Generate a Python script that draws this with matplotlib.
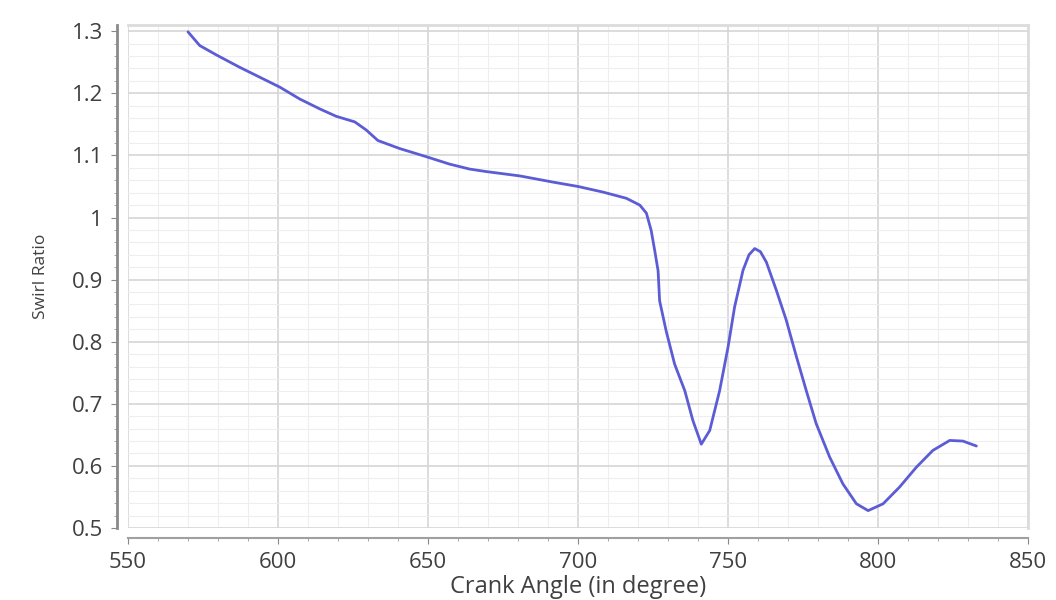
import numpy as np
import matplotlib.pyplot as plt
from matplotlib.ticker import MultipleLocator

# Swirl ratio vs crank angle
crank_angle = [570.0, 573.9, 579.4, 587.2, 593.9, 600.6, 607.2, 613.9, 619.4,
               625.6, 629.4, 633.3, 640.6, 649.4, 657.2, 663.9, 669.4, 680.6,
               691.7, 700.0, 708.3, 716.1, 720.6, 722.8, 724.4, 725.6, 726.7,
               727.2, 729.4, 732.2, 735.6, 738.3, 741.1, 743.9, 747.2, 750.0,
               752.2, 755.0, 757.0, 758.9, 760.8, 762.8, 766.1, 769.4, 772.8,
               776.1, 779.4, 783.9, 788.3, 792.8, 796.7, 801.7, 807.2, 812.8,
               818.3, 823.9, 828.3, 832.8]
swirl_ratio = [1.299, 1.277, 1.262, 1.242, 1.226, 1.210, 1.191, 1.175, 1.163,
               1.154, 1.141, 1.124, 1.111, 1.098, 1.086, 1.078, 1.074, 1.067,
               1.057, 1.050, 1.041, 1.031, 1.020, 1.007, 0.979, 0.946, 0.914,
               0.866, 0.817, 0.764, 0.721, 0.673, 0.635, 0.657, 0.721, 0.791,
               0.856, 0.915, 0.940, 0.950, 0.945, 0.928, 0.883, 0.835, 0.776,
               0.721, 0.668, 0.614, 0.571, 0.539, 0.528, 0.539, 0.566, 0.598,
               0.625, 0.641, 0.640, 0.632]

x_ticks = [550, 600, 650, 700, 750, 800, 850]
y_ticks = [0.5, 0.6, 0.7, 0.8, 0.9, 1.0, 1.1, 1.2, 1.3]
y_labels = ["0.5", "0.6", "0.7", "0.8", "0.9", "1", "1.1", "1.2", "1.3"]

plt.rcParams['font.family'] = ['Open Sans', 'DejaVu Sans']

fig = plt.figure(figsize=(10.56, 6), dpi=100)
ax = fig.add_axes([0.1212, 0.12, 0.8523, 0.8383])

ax.plot(crank_angle, swirl_ratio, color="#5c5cd6", linewidth=2,
        solid_joinstyle="round", solid_capstyle="round")

ax.set_xlim(550, 850)
ax.set_ylim(0.5, 1.31)
ax.set_xticks(x_ticks)
ax.set_yticks(y_ticks)
ax.set_yticklabels(y_labels)
ax.xaxis.set_minor_locator(MultipleLocator(10))
ax.yaxis.set_minor_locator(MultipleLocator(0.02))

ax.grid(which="major", color="#d6d6d6", linewidth=1.2)
ax.grid(which="minor", color="#eeeeee", linewidth=0.8)
ax.set_axisbelow(True)

ax.spines["left"].set_position(("outward", 8))
ax.spines["bottom"].set_position(("outward", 7))
ax.spines["left"].set_color("#8a8a8a")
ax.spines["bottom"].set_color("#a0a0a0")
ax.spines["left"].set_linewidth(2)
ax.spines["bottom"].set_linewidth(1.5)
for side in ["top", "right"]:
    ax.spines[side].set_color("#dcdcdc")
    ax.spines[side].set_linewidth(2)

ax.tick_params(which="major", length=4, color="#888888", labelsize=16,
               labelcolor="#404040")
ax.tick_params(which="minor", length=2, color="#999999")
ax.tick_params(axis="x", pad=6)
ax.tick_params(axis="y", pad=6)

ax.set_ylabel("Swirl Ratio", fontsize=12.5, color="#404040", labelpad=16)
ax.set_xlabel("Crank Angle (in degree)", fontsize=17, color="#404040",
              labelpad=2)

plt.savefig("out.png", dpi=100)
plt.close()
